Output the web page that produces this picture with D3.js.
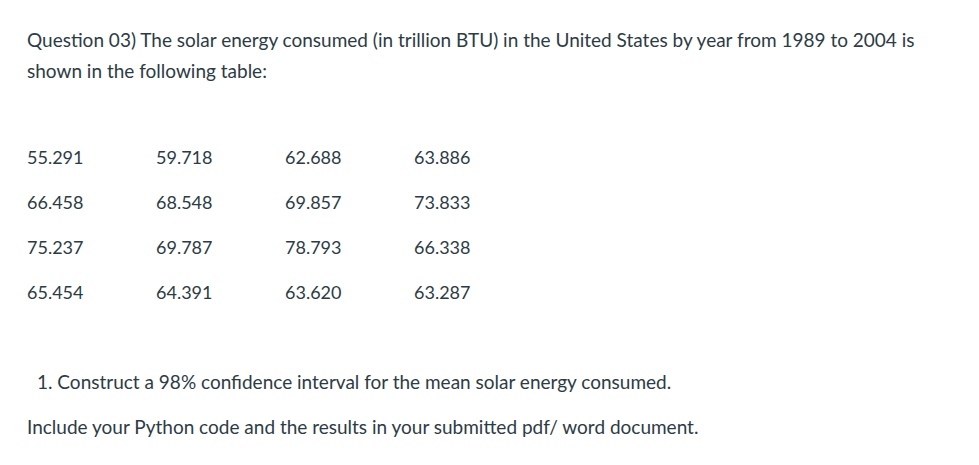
<!DOCTYPE html>
<html><head><meta charset="utf-8">
<script src="https://cdn.jsdelivr.net/npm/d3@7"></script>
<style>body{margin:0;background:#fff}</style>
</head><body>
<script>
const titleLines = ["Question 03) The solar energy consumed (in trillion BTU) in the United States by year from 1989 to 2004 is",
                    "shown in the following table:"];
const row1 = ["55.291","59.718","62.688","63.886"];
const row2 = ["66.458","68.548","69.857","73.833"];
const row3 = ["75.237","69.787","78.793","66.338"];
const row4 = ["65.454","64.391","63.620","63.287"];
const rows = [row1,row2,row3,row4];
const taskLine = "1. Construct a 98% confidence interval for the mean solar energy consumed.";
const noteLine = "Include your Python code and the results in your submitted pdf/ word document.";

const W=979,H=465,color="#2d3b45",font="Lato, 'Open Sans', sans-serif";
const svg=d3.select("body").append("svg").attr("width",W).attr("height",H);
svg.selectAll(".t").data(titleLines).join("text")
  .attr("x",27).attr("y",(d,i)=>47+i*31).attr("font-family",font).attr("font-size",19)
  .attr("fill",color).text(d=>d);
const x=d3.scaleBand().domain(d3.range(4)).range([27,543]).paddingInner(0);
const y=d3.scalePoint().domain(d3.range(4)).range([158,293]);
const g=svg.append("g");
rows.forEach((r,ri)=>{
  g.selectAll(null).data(r).join("text")
   .attr("x",(d,ci)=>x(ci)).attr("y",y(ri)).attr("dy","0.35em")
   .attr("font-family",font).attr("font-size",18).attr("fill",color).text(d=>d);
});
svg.append("text").attr("x",37).attr("y",389).attr("font-family",font).attr("font-size",19).attr("fill",color).text(taskLine);
svg.append("text").attr("x",27).attr("y",434).attr("font-family",font).attr("font-size",19).attr("fill",color).text(noteLine);
</script>
</body></html>
